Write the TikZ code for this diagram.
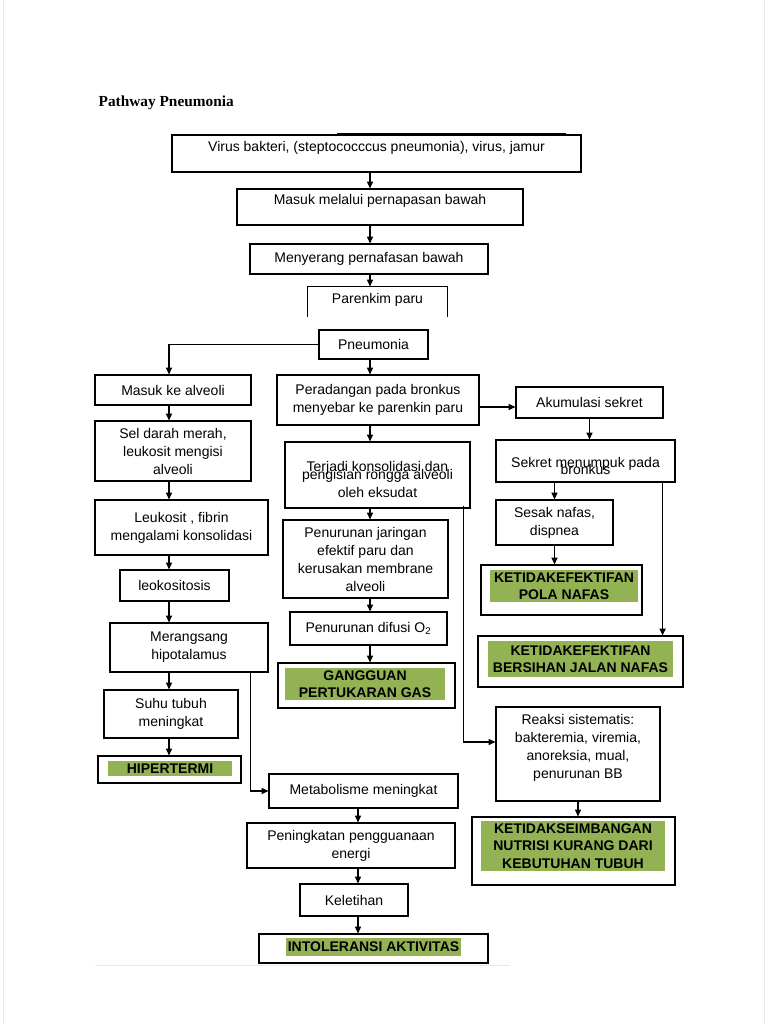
\documentclass[tikz,border=0pt]{standalone}
\usepackage{fontspec}
\setsansfont{Liberation Sans}
\newfontfamily\titlefont{Liberation Serif}
\usetikzlibrary{arrows.meta,calc}
\definecolor{nanda}{RGB}{146,178,84}
\definecolor{edge}{RGB}{232,232,243}
\tikzset{
  box/.style={draw, line width=.9pt, fill=white, align=center, inner sep=0pt,
    font=\sffamily\fontsize{10.5}{13.5}\selectfont},
  txt/.style={align=center, inner sep=0pt, font=\sffamily\fontsize{10.5}{13.5}\selectfont},
  dx/.style={align=center, inner sep=0pt, fill=nanda,
    font=\sffamily\bfseries\fontsize{10.5}{13}\selectfont},
  wh/.style 2 args={minimum width=#1*0.75pt, minimum height=#2*0.75pt},
  arr/.style={line width=.8pt, -{Triangle[length=5pt,width=4.5pt]}}
}
\begin{document}
\begin{tikzpicture}[x=0.75pt,y=-0.75pt]
\useasboundingbox (0,0) rectangle (768,1024);
\fill[white] (0,0) rectangle (768,1024);
\draw[edge] (3,0) -- (3,1024);
\draw[edge] (764,0) -- (764,1024);
\draw[edge] (95,965) -- (510,965);
\node[anchor=west, font=\titlefont\bfseries\fontsize{11.5}{13}\selectfont] (title) at (94,103) {Pathway Pneumonia};
\coordinate (mid) at (370,0);
\coordinate (lft) at (169,0);
\coordinate (bot) at (358,0);

% atas
\node[box, wh={409}{37}, text depth=10pt] (virus) at (376.5,153.5) {Virus bakteri, (steptococccus pneumonia), virus, jamur};
\draw[line width=.9pt] ($(virus.north west)+(166,-1)$) -- ($(virus.north east)+(-16,-1)$);
\node[box, wh={286}{36}, text depth=11pt] (masuk) at (380,207) {Masuk melalui pernapasan bawah};
\node[box, wh={238}{30}] (serang) at (369,259) {Menyerang pernafasan bawah};
\node[box, draw=none, fill=none, wh={139}{29}, text depth=5pt] (parenkim) at (377.5,301.5) {Parenkim paru};
\draw[line width=.9pt] (parenkim.south west) -- (parenkim.north west) -- (parenkim.north east) -- (parenkim.south east);
\node[box, wh={109}{29}] (pneu) at (373.5,344.5) {Pneumonia};

% kiri
\node[box, wh={156}{30}] (alveoli) at (173,390) {Masuk ke alveoli};
\node[box, wh={156}{60}] (darah) at (173,451) {Sel darah merah,\\leukosit mengisi\\alveoli};
\node[box, wh={173}{55}] (fibrin) at (181.5,527.5) {Leukosit , fibrin\\mengalami konsolidasi};
\node[box, wh={109}{31}] (leoko) at (174.5,585.5) {leokositosis};
\node[box, wh={158}{49}] (hipo) at (189,647.5) {Merangsang\\hipotalamus};
\node[box, wh={134}{48}] (suhu) at (171,714) {Suhu tubuh\\meningkat};
\node[box, wh={143}{27}] (hiper) at (169.5,769.5) {};
\node[dx, wh={124}{15}] (hipertxt) at (170,768.5) {HIPERTERMI};

% tengah
\node[box, wh={202}{50}] (perad) at (378,400) {Peradangan pada bronkus\\menyebar ke parenkin paru};
\node[box, wh={185}{66}] (konsol) at (377.5,475) {};
\node[txt] (konsoltxt) at (377.5,479) {Terjadi konsolidasi dan\\[-7.5pt]pengisian rongga alveoli\\oleh eksudat};
\node[box, wh={165}{78}] (jaringan) at (365.5,559) {Penurunan jaringan\\efektif paru dan\\kerusakan membrane\\alveoli};
\node[box, wh={157}{33}] (difusi) at (368.5,628.5) {Penurunan difusi O\textsubscript{2}};
\node[box, wh={177}{45}] (gas) at (366.5,685.5) {};
\node[dx, wh={160}{32}] (gastxt) at (365,684) {GANGGUAN\\PERTUKARAN GAS};

% kanan
\node[box, wh={147}{31}] (akum) at (589.5,402.5) {Akumulasi sekret};
\node[box, wh={179}{42}] (sekret) at (585.5,461) {};
\node[txt] (sekrettxt) at (585.5,466) {Sekret menumpuk pada\\[-8.25pt]bronkus};
\node[box, wh={117}{45}] (sesak) at (554.5,522.5) {Sesak nafas,\\dispnea};
\node[box, wh={161}{50}] (pola) at (561.5,590) {};
\node[dx, wh={148}{32}] (polatxt) at (564,586) {KETIDAKEFEKTIFAN\\POLA NAFAS};
\node[box, wh={205}{51}] (bersihan) at (580.5,661.5) {};
\node[dx, wh={185}{36}] (bersihantxt) at (580.5,659) {KETIDAKEFEKTIFAN\\BERSIHAN JALAN NAFAS};
\node[box, wh={164}{94}] (reaksi) at (578,754) {};
\node[txt] (reaksitxt) at (578,748) {Reaksi sistematis:\\bakteremia, viremia,\\anoreksia, mual,\\penurunan BB};
\node[box, wh={203}{68}] (nutrisi) at (573.5,851) {};
\node[dx, wh={184}{50}] (nutrisitxt) at (573,846) {KETIDAKSEIMBANGAN\\NUTRISI KURANG DARI\\KEBUTUHAN TUBUH};

% bawah
\node[box, wh={189}{34}] (metab) at (363.5,791) {Metabolisme meningkat};
\node[box, wh={208}{45}] (energi) at (351,845.5) {Peningkatan pengguanaan\\energi};
\node[box, wh={108}{32}] (letih) at (354,900) {Keletihan};
\node[box, wh={229}{29}] (intol) at (373.5,948.5) {};
\node[dx, wh={175}{18}] (intoltxt) at (373.5,947) {INTOLERANSI AKTIVITAS};

% panah
\draw[arr] (virus.south -| mid) -- (masuk.north -| mid);
\draw[arr] (masuk.south -| mid) -- (serang.north -| mid);
\draw[arr] (serang.south -| mid) -- (parenkim.north -| mid);
\draw[arr] (pneu.south -| mid) -- (perad.north -| mid);
\draw[arr] (perad.south -| mid) -- (konsol.north -| mid);
\draw[arr] (konsol.south -| mid) -- (jaringan.north -| mid);
\draw[arr] (jaringan.south -| mid) -- (difusi.north -| mid);
\draw[arr] (difusi.south -| mid) -- (gas.north -| mid);
\draw[arr] (pneu.west) -| (alveoli.north -| lft);
\draw[arr] (alveoli.south -| lft) -- (darah.north -| lft);
\draw[arr] (darah.south -| lft) -- (fibrin.north -| lft);
\draw[arr] (fibrin.south -| lft) -- (leoko.north -| lft);
\draw[arr] (leoko.south -| lft) -- (hipo.north -| lft);
\draw[arr] (hipo.south -| lft) -- (suhu.north -| lft);
\draw[arr] (suhu.south -| lft) -- (hiper.north -| lft);
\draw[arr] ($(hipo.south east)+(-18,0)$) |- (metab.west);
\draw[arr] (metab.south -| bot) -- (energi.north -| bot);
\draw[arr] (energi.south -| bot) -- (letih.north -| bot);
\draw[arr] (letih.south -| bot) -- (intol.north -| bot);
\draw[arr] ($(perad.east)+(0,7)$) coordinate (p1) -- (p1 -| akum.west);
\draw[arr] (akum.south) -- (akum.south |- sekret.north);
\draw[arr] (sesak.north |- sekret.south) -- (sesak.north);
\draw[arr] (sesak.south) -- (sesak.south |- pola.north);
\draw[arr] ($(sekret.south east)+(-13,0)$) coordinate (s1) -- (s1 |- bersihan.north);
\draw[arr] ($(konsol.south east)+(-7,-3)$) |- ($(reaksi.west)+(0,-12)$);
\draw[arr] (reaksi.south) -- (reaksi.south |- nutrisi.north);
\end{tikzpicture}
\end{document}
